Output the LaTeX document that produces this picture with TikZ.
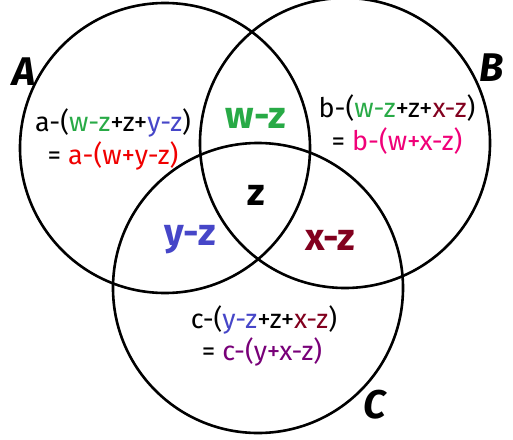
\documentclass[tikz,border=0pt]{standalone}
\usepackage{fontspec}
\setmainfont{Fira Sans}
\definecolor{gr}{RGB}{40,170,70}
\definecolor{bl}{RGB}{70,70,200}
\definecolor{dr}{RGB}{130,0,30}
\definecolor{rd}{RGB}{240,0,0}
\definecolor{pk}{RGB}{240,0,120}
\definecolor{pu}{RGB}{120,0,120}
\begin{document}
\begin{tikzpicture}[x=1pt,y=-1pt,
  circ/.style={draw,line width=2.6pt},
  big/.style={font=\fontsize{38}{40}\selectfont\bfseries},
  lab/.style={font=\fontsize{40}{42}\selectfont\itshape\bfseries},
  eq/.style={font=\fontsize{27}{29}\selectfont}]
\useasboundingbox (0,0) rectangle (513,439);
\node[circ,circle,minimum size=290pt] (a) at (165,148) {};
\node[circ,circle,minimum size=290pt] (b) at (345,143) {};
\node[circ,circle,minimum size=290pt] (c) at (258,288) {};
\node[lab] (la) at (24,72) {A};
\node[lab] (lb) at (492,68) {B};
\node[lab] (lc) at (375,405) {C};
\node[big,text=gr] (wz) at (256,118) {w-z};
\node[big] (z) at (256,195) {z};
\node[big,text=bl] (yz) at (190,240) {y-z};
\node[big,text=dr] (xz) at (330,240) {x-z};
\node[eq] (a1) at (113,123) {a-(\textcolor{gr}{w-z}+z+\textcolor{bl}{y-z})};
\node[eq] (a2) at (113,156) {= \textcolor{rd}{a-(w+y-z)}};
\node[eq] (b1) at (397,108) {b-(\textcolor{gr}{w-z}+z+\textcolor{dr}{x-z})};
\node[eq] (b2) at (397,141) {= \textcolor{pk}{b-(w+x-z)}};
\node[eq] (c1) at (264,320) {c-(\textcolor{bl}{y-z}+z+\textcolor{dr}{x-z})};
\node[eq] (c2) at (262,352) {= \textcolor{pu}{c-(y+x-z)}};
\end{tikzpicture}
\end{document}
